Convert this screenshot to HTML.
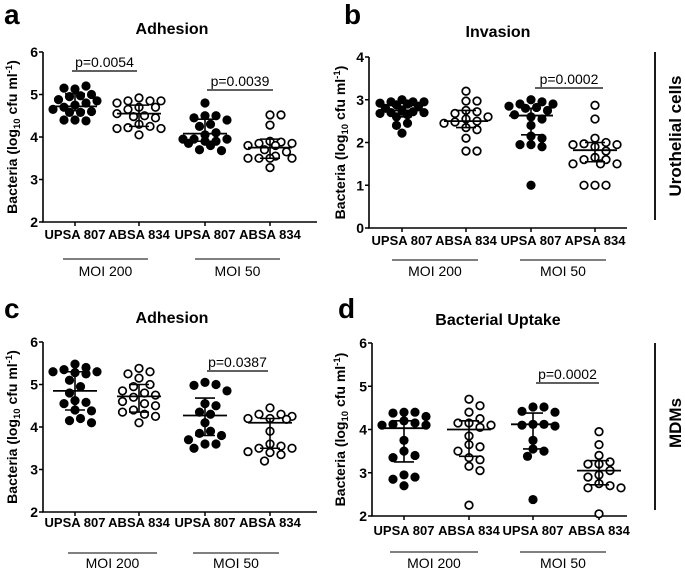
<!DOCTYPE html>
<html><head><meta charset="utf-8"><style>
html,body{margin:0;padding:0;background:#fff;}
svg{display:block;font-family:"Liberation Sans",Arial,sans-serif;}
</style></head><body>
<svg id="fig" width="685" height="573" viewBox="0 0 685 573"></svg>
<script>
// ---- data ----
const categories = ["UPSA 807","ABSA 834","UPSA 807","ABSA 834"];
const categoriesB = ["UPSA 807","ABSA 834","UPSA 807","APSA 834"];
const groupLabels = ["MOI 200","MOI 50"];
const titles = ["Adhesion","Invasion","Adhesion","Bacterial Uptake"];
const panelLetters = ["a","b","c","d"];
const ticksA = [2,3,4,5,6];
const ticksB = [0,1,2,3,4];
const pTextA = ["p=0.0054","p=0.0039"];
const pTextB = ["p=0.0002"];
const pTextC = ["p=0.0387"];
const pTextD = ["p=0.0002"];

const aG1=[5.13,5.2,5.15,5.0,4.97,4.95,4.88,4.85,4.8,4.75,4.7,4.65,4.6,4.58,4.58,4.4,4.38,4.4];
const aG2=[4.92,4.85,4.85,4.85,4.8,4.7,4.7,4.65,4.55,4.5,4.48,4.45,4.3,4.25,4.22,4.2,4.2,4.05];
const aG3=[4.8,4.5,4.5,4.45,4.4,4.3,4.25,4.1,4.05,3.95,3.95,3.95,3.9,3.9,3.85,3.8,3.7,3.68];
const aG4=[4.52,4.52,4.28,3.9,3.88,3.85,3.85,3.8,3.8,3.7,3.65,3.55,3.5,3.5,3.5,3.5,3.28];
const aMed=[4.72,4.55,4.08,3.75], aLo=[4.62,4.25,3.9,3.5], aHi=[5.02,4.75,4.42,3.95];

const bG1=[3.0,2.95,2.95,2.95,2.92,2.9,2.88,2.85,2.8,2.75,2.72,2.7,2.7,2.68,2.65,2.6,2.45,2.4,2.22];
const bG2=[3.2,2.97,2.97,2.75,2.72,2.68,2.6,2.55,2.5,2.48,2.45,2.35,2.3,2.1,1.8,1.8];
const bG3=[3.0,2.95,2.9,2.9,2.85,2.82,2.8,2.75,2.65,2.6,2.55,2.4,2.15,2.1,1.95,1.95,1.9,1.0];
const bG4=[2.87,2.55,2.1,2.0,1.97,1.95,1.95,1.9,1.8,1.65,1.6,1.6,1.5,1.5,1.5,1.0,1.0,1.0];
const bMed=[2.75,2.5,2.63,1.82], bLo=[2.6,2.35,2.18,1.55], bHi=[2.85,2.75,2.8,2.0];

const cG1=[5.48,5.4,5.35,5.3,5.3,5.28,5.25,5.1,4.95,4.8,4.62,4.58,4.55,4.4,4.38,4.2,4.15,4.1];
const cG2=[5.38,5.3,5.25,5.15,5.0,4.95,4.85,4.8,4.75,4.7,4.6,4.55,4.5,4.4,4.35,4.3,4.25,4.1];
const cG3=[5.05,5.0,4.98,4.85,4.55,4.5,4.35,4.3,4.1,3.9,3.85,3.8,3.7,3.6,3.6,3.5];
const cG4=[4.45,4.3,4.3,4.25,4.2,4.2,4.18,3.9,3.6,3.55,3.5,3.5,3.42,3.4,3.35,3.2];
const cMed=[4.85,4.72,4.27,4.1], cLo=[4.4,4.35,3.8,3.5], cHi=[5.3,5.0,4.68,4.2];

const dG1=[4.4,4.4,4.38,4.3,4.2,4.15,4.12,4.1,4.1,3.75,3.5,3.4,3.35,2.95,2.9,2.85,2.7];
const dG2=[4.7,4.55,4.4,4.25,4.15,4.15,4.1,4.05,3.85,3.65,3.6,3.5,3.35,3.3,3.15,3.05,2.25];
const dG3=[4.52,4.52,4.42,4.4,4.12,4.12,4.1,4.08,3.75,3.55,3.5,3.38,2.38];
const dG4=[3.95,3.65,3.4,3.25,3.2,3.2,3.05,2.95,2.9,2.75,2.7,2.65,2.65,2.05];
const dMed=[4.03,4.0,4.12,3.05], dLo=[3.25,3.38,3.55,2.72], dHi=[4.2,4.2,4.38,3.28];

// ---- layout ----
const NS="http://www.w3.org/2000/svg";
const svg=document.getElementById('fig');
function el(tag,attrs,parent,text){const e=document.createElementNS(NS,tag);for(const k in attrs)e.setAttribute(k,attrs[k]);if(text!==undefined)e.textContent=text;(parent||svg).appendChild(e);return e;}

const panels=[
 {letter:0,lx:4,ly:24,title:0,tx:172,ty:34,ax:43,ax2:317,yTop:52,yBot:222,ticks:ticksA,cx:[75,139,205,270],cats:categories,
  groups:[aG1,aG2,aG3,aG4],med:aMed,lo:aLo,hi:aHi,
  p:[{t:pTextA[0],x1:72,x2:137,y:71},{t:pTextA[1],x1:207,x2:273,y:90}],
  catY:239,moiY:259,moi:[[63,148],[195,280]],moiTY:282,ylabX:17},
 {letter:1,lx:344,ly:24,title:1,tx:498,ty:37,ax:369,ax2:627,yTop:57,yBot:228,ticks:ticksB,cx:[402,466,531,595],cats:categoriesB,
  groups:[bG1,bG2,bG3,bG4],med:bMed,lo:bLo,hi:bHi,
  p:[{t:pTextB[0],x1:535,x2:603,y:88}],
  catY:245,moiY:260,moi:[[392,478],[520,606]],moiTY:282,ylabX:345},
 {letter:2,lx:4,ly:318,title:2,tx:172,ty:323,ax:43,ax2:317,yTop:342,yBot:512,ticks:ticksA,cx:[75,139,205,270],cats:categories,
  groups:[cG1,cG2,cG3,cG4],med:cMed,lo:cLo,hi:cHi,
  p:[{t:pTextC[0],x1:207,x2:268,y:371}],
  catY:527,moiY:553,moi:[[68,157],[193,279]],moiTY:574,ylabX:17},
 {letter:3,lx:338,ly:318,title:3,tx:498,ty:325,ax:372,ax2:627,yTop:343,yBot:516,ticks:ticksA,cx:[404,469,533,599],cats:categories,
  groups:[dG1,dG2,dG3,dG4],med:dMed,lo:dLo,hi:dHi,
  p:[{t:pTextD[0],x1:536,x2:599,y:383}],
  catY:535,moiY:552,moi:[[390,478],[520,606]],moiTY:574,ylabX:345}
];

const R=4.6;
function swarm(vals,yScale,cx){
  const placed=[];const out=[];
  vals.forEach(v=>{const y=yScale(v);let best=null;
    for(let k=0;k<=4&&best===null;k++){const cands=k===0?[0]:[k*5.5,-k*5.5];
      for(const o of cands){if(placed.every(p=>Math.hypot(p[0]-o,p[1]-y)>=1.85*R)){best=o;break;}}}
    if(best===null){let bd=-1;[0,11,-11,22,-22,5.5,-5.5,16.5,-16.5].forEach(o=>{const d=Math.min(...placed.map(p=>Math.hypot(p[0]-o,p[1]-y)));if(d>bd){bd=d;best=o;}});}
    placed.push([best,y]);out.push([cx+best,y]);});
  return out;
}

panels.forEach((P,pi)=>{
  const g=el('g',{}, svg);
  
  
  const lo=P.ticks[0],hi=P.ticks[P.ticks.length-1];
  const y=v=>P.yBot-(v-lo)/(hi-lo)*(P.yBot-P.yTop);
  const L=el('text',{x:P.lx,y:P.ly,'font-size':28,'font-weight':'bold'},g,panelLetters[P.letter]);
  
  const T=el('text',{x:P.tx,y:P.ty,'font-size':16,'font-weight':'bold','text-anchor':'middle'},g,titles[P.title]);
  
  const ya=el('line',{x1:P.ax,x2:P.ax,y1:P.yTop,y2:P.yBot,stroke:'#000','stroke-width':1.6},g);
  
  const xa=el('line',{x1:P.ax-1,x2:P.ax2,y1:P.yBot,y2:P.yBot,stroke:'#000','stroke-width':1.6},g);
  
  P.ticks.forEach(t=>{
    el('line',{x1:P.ax-4,x2:P.ax,y1:y(t),y2:y(t),stroke:'#000','stroke-width':1.5},g);
    const tl=el('text',{x:P.ax-5,y:y(t)+5,'font-size':14,'font-weight':'bold','text-anchor':'end'},g,String(t));
    
  });
  const yl=el('text',{transform:`translate(${P.ylabX},${(P.yTop+P.yBot)/2}) rotate(-90)`,'font-size':14,'font-weight':'bold','text-anchor':'middle'},g);
  
  el('tspan',{},yl,'Bacteria (log');
  el('tspan',{'font-size':9.5,dy:3},yl,'10');
  el('tspan',{dy:-3},yl,' cfu ml');
  el('tspan',{'font-size':9.5,dy:-5},yl,'-1');
  el('tspan',{dy:5},yl,')');
  P.cx.forEach((cx,i)=>{
    el('line',{x1:cx,x2:cx,y1:P.yBot,y2:P.yBot+4,stroke:'#000','stroke-width':1.5},g);
    const cl=el('text',{x:cx,y:P.catY,'font-size':13,'font-weight':'bold','text-anchor':'middle'},g,P.cats[i]);
    
    const pts=swarm(P.groups[i],y,cx);
    const filled=(i%2===0);
    pts.forEach(pt=>{
      const c=el('circle',{cx:pt[0],cy:pt[1],r:filled?R:R-0.8,fill:filled?'#000':'#fff',stroke:'#000','stroke-width':filled?0:1.7},g);
      
      
    });
    const ym=y(P.med[i]),yL=y(P.lo[i]),yH=y(P.hi[i]);
    el('line',{x1:cx-22,x2:cx+22,y1:ym,y2:ym,stroke:'#000','stroke-width':1.8},g);
    el('line',{x1:cx,x2:cx,y1:yL,y2:yH,stroke:'#000','stroke-width':1.6},g);
    el('line',{x1:cx-10,x2:cx+10,y1:yL,y2:yL,stroke:'#000','stroke-width':1.6},g);
    el('line',{x1:cx-10,x2:cx+10,y1:yH,y2:yH,stroke:'#000','stroke-width':1.6},g);
  });
  P.p.forEach(pv=>{
    el('line',{x1:pv.x1,x2:pv.x2,y1:pv.y,y2:pv.y,stroke:'#000','stroke-width':1.2},g);
    const pt=el('text',{x:(pv.x1+pv.x2)/2,y:pv.y-4,'font-size':14,'text-anchor':'middle'},g,pv.t);
    
  });
  P.moi.forEach((m,i)=>{
    el('line',{x1:m[0],x2:m[1],y1:P.moiY,y2:P.moiY,stroke:'#000','stroke-width':1},g);
    const mt=el('text',{x:(m[0]+m[1])/2,y:P.moiTY-6,'font-size':14,'text-anchor':'middle'},g,groupLabels[i]);
    
  });
});

const s1=el('line',{x1:655,x2:655,y1:52,y2:220,stroke:'#000','stroke-width':1.8});

const s1t=el('text',{transform:'translate(681,136) rotate(-90)','font-size':17,'font-weight':'bold','text-anchor':'middle'},svg,'Urothelial cells');

const s2=el('line',{x1:655,x2:655,y1:343,y2:510,stroke:'#000','stroke-width':1.8});

const s2t=el('text',{transform:'translate(681,423) rotate(-90)','font-size':17,'font-weight':'bold','text-anchor':'middle'},svg,'MDMs');

</script>
</body></html>
